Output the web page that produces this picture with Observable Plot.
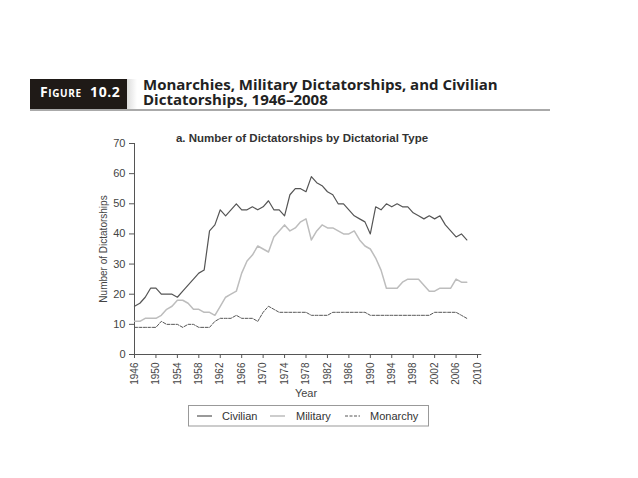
<!DOCTYPE html>
<html><head><meta charset="utf-8">
<script src="https://cdn.jsdelivr.net/npm/d3@7"></script>
<script src="https://cdn.jsdelivr.net/npm/@observablehq/plot@0.6"></script>
<style>
body{margin:0;background:#fff;width:638px;height:478px;position:relative;overflow:hidden;font-family:"Liberation Sans",Arial,sans-serif;}
#figbox{position:absolute;left:30px;top:79px;width:97px;height:31px;background:#1f1a17;}
#figshade{position:absolute;left:127px;top:79px;width:10px;height:31px;background:linear-gradient(to right,#ddd,#fff);}
#figlabel{position:absolute;left:40px;top:84px;color:#fff;font-family:"Open Sans";font-weight:bold;font-size:14px;font-variant:small-caps;letter-spacing:0.6px;line-height:16px;white-space:nowrap;}
#title{position:absolute;left:143px;top:77px;color:#222;font-family:"Open Sans";font-weight:bold;font-size:15px;line-height:14.8px;white-space:nowrap;}
#title div{height:14.8px;}
#rule{position:absolute;left:30px;top:109px;width:520px;height:2px;background:#aaa;}
#subtitle{position:absolute;left:0;top:132px;width:604px;text-align:center;color:#333;font-weight:bold;font-size:11.5px;line-height:12px;white-space:nowrap;}
#chart{position:absolute;left:0;top:120px;}
#legend{position:absolute;left:188px;top:405px;}
</style></head>
<body>
<div id="figbox"></div><div id="figshade"></div>
<div id="figlabel">Figure&nbsp;&nbsp;10.2</div>
<div id="title"><div>Monarchies, Military Dictatorships, and Civilian</div><div>Dictatorships, 1946–2008</div></div>
<div id="rule"></div>
<div id="subtitle">a. Number of Dictatorships by Dictatorial Type</div>
<div id="chart"></div>
<div id="legend"></div>
<script>
const years = [1946,1947,1948,1949,1950,1951,1952,1953,1954,1955,1956,1957,1958,1959,1960,1961,1962,1963,1964,1965,1966,1967,1968,1969,1970,1971,1972,1973,1974,1975,1976,1977,1978,1979,1980,1981,1982,1983,1984,1985,1986,1987,1988,1989,1990,1991,1992,1993,1994,1995,1996,1997,1998,1999,2000,2001,2002,2003,2004,2005,2006,2007,2008];
const civilian = [16,17,19,22,22,20,20,20,19,21,23,25,27,28,41,43,48,46,48,50,48,48,49,48,49,51,48,48,46,53,55,55,54,59,57,56,54,53,50,50,48,46,45,44,40,49,48,50,49,50,49,49,47,46,45,46,45,46,43,41,39,40,38];
const military = [11,11,12,12,12,13,15,16,18,18,17,15,15,14,14,13,16,19,20,21,27,31,33,36,35,34,39,41,43,41,42,44,45,38,41,43,42,42,41,40,40,41,38,36,35,32,28,22,22,22,24,25,25,25,23,21,21,22,22,22,25,24,24];
const monarchy = [9,9,9,9,9,11,10,10,10,9,10,10,9,9,9,11,12,12,12,13,12,12,12,11,14,16,15,14,14,14,14,14,14,13,13,13,13,14,14,14,14,14,14,14,13,13,13,13,13,13,13,13,13,13,13,13,14,14,14,14,14,13,12];
const seriesNames = ["Civilian","Military","Monarchy"];
const xTicks = [1946,1950,1954,1958,1962,1966,1970,1974,1978,1982,1986,1990,1994,1998,2002,2006,2010];
const yTicks = [0,10,20,30,40,50,60,70];

const rows = (vals) => years.map((y,i)=>({year:y, value:vals[i]}));
const ink = "#555";

const chart = Plot.plot({
  width:638, height:285,
  marginTop:23, marginBottom:51, marginLeft:134, marginRight:161,
  style:{fontFamily:"Liberation Sans, Arial, sans-serif", fontSize:"11px", color:"#444", background:"transparent"},
  x:{domain:[1946,2010]},
  y:{domain:[0,70]},
  marks:[
    Plot.ruleX([1946],{y1:0,y2:70,stroke:ink,strokeWidth:1}),
    Plot.ruleY([0],{x1:1946,x2:2010.8,stroke:ink,strokeWidth:1}),
    Plot.axisY({ticks:yTicks, tickSize:5, tickPadding:4, label:null, fontSize:11, stroke:ink}),
    Plot.axisX({ticks:xTicks, tickFormat:d=>String(d), tickRotate:-90, tickSize:4, tickPadding:4, label:null, fontSize:10, stroke:ink}),
    Plot.text(["Year"],{frameAnchor:"bottom", textAnchor:"middle", lineAnchor:"middle", dy:39, fontSize:11, fill:"#444"}),
    Plot.text(["Number of Dictatorships"],{frameAnchor:"left", textAnchor:"middle", lineAnchor:"middle", rotate:-90, dx:-31, fontSize:10, fill:"#444"}),
    Plot.line(rows(military),{x:"year",y:"value",stroke:"#bdbdbd",strokeWidth:1.5}),
    Plot.line(rows(monarchy),{x:"year",y:"value",stroke:ink,strokeWidth:1,strokeDasharray:"3,1.5"}),
    Plot.line(rows(civilian),{x:"year",y:"value",stroke:ink,strokeWidth:1.2})
  ]
});
document.getElementById("chart").appendChild(chart);

// legend
const lg = d3.select("#legend").append("svg").attr("width",241).attr("height",22)
  .style("font-family","Liberation Sans, Arial, sans-serif").style("font-size","11px");
lg.append("rect").attr("x",0.5).attr("y",0.5).attr("width",240).attr("height",20.5).attr("fill","none").attr("stroke","#999");
const legendItems = [
  {name:seriesNames[0], x0:9, tx:34, stroke:ink, dash:null, w:1.2},
  {name:seriesNames[1], x0:82, tx:108, stroke:"#bdbdbd", dash:null, w:1.5},
  {name:seriesNames[2], x0:157, tx:182, stroke:ink, dash:"3,1.5", w:1}
];
legendItems.forEach(it=>{
  lg.append("line").attr("x1",it.x0).attr("x2",it.x0+15).attr("y1",11).attr("y2",11)
    .attr("stroke",it.stroke).attr("stroke-width",it.w).attr("stroke-dasharray",it.dash);
  lg.append("text").attr("x",it.tx).attr("y",14.5).attr("fill","#333").text(it.name);
});
</script>
</body></html>
